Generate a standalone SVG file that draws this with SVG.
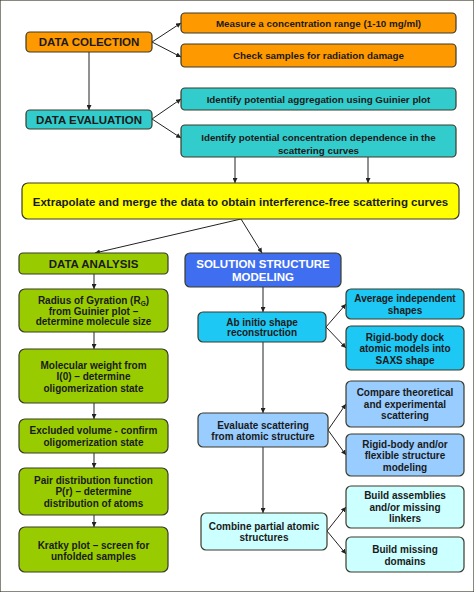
<svg xmlns="http://www.w3.org/2000/svg" width="474" height="592" viewBox="0 0 474 592">
<defs>
<marker id="ah" viewBox="0 0 10 10" refX="10" refY="5" markerWidth="5" markerHeight="5" orient="auto" markerUnits="userSpaceOnUse"><path d="M0,0 L10,5 L0,10 z" fill="#222"/></marker>
<style>
rect{stroke:#3a3a2a;stroke-width:1.2}
text{font-family:"Liberation Sans",Arial,sans-serif;font-weight:bold;fill:#1a1a1a;text-anchor:middle}
.h{font-size:11.5px}
.s{font-size:9.8px}
.m{font-size:10px}
.or{fill:#FF9900}
.te{fill:#33CCCC}
.ye{fill:#FFFF00}
.gr{fill:#99CC00}
.bl{fill:#3F6FF0}
.cy{fill:#1EC8F5}
.lb{fill:#99CCFF}
.lc{fill:#CCFFFF}
.w{fill:#ffffff}
#connectors line{stroke:#222;stroke-width:1;marker-end:url(#ah)}
</style>
</defs>
<rect x="0" y="0" width="474" height="592" fill="#ffffff" stroke="none"/>
<g id="connectors">
<line x1="152" y1="42" x2="181" y2="23"/>
<line x1="152" y1="42" x2="181" y2="57"/>
<line x1="89" y1="52" x2="89" y2="110"/>
<line x1="152" y1="119" x2="181" y2="99"/>
<line x1="152" y1="119" x2="181" y2="138"/>
<line x1="235" y1="157" x2="235" y2="183"/>
<line x1="368" y1="157" x2="368" y2="183"/>
<line x1="241" y1="219" x2="95" y2="253"/>
<line x1="241" y1="219" x2="262" y2="253"/>
<line x1="94" y1="274" x2="94" y2="289"/>
<line x1="94" y1="332" x2="94" y2="349"/>
<line x1="94" y1="403" x2="94" y2="419"/>
<line x1="94" y1="453" x2="94" y2="468"/>
<line x1="94" y1="515" x2="94" y2="527"/>
<line x1="263" y1="287" x2="263" y2="312"/>
<line x1="263" y1="342" x2="263" y2="413"/>
<line x1="263" y1="447" x2="263" y2="513"/>
<line x1="326" y1="327" x2="346" y2="304"/>
<line x1="326" y1="327" x2="346" y2="348"/>
<line x1="328" y1="430" x2="346" y2="404"/>
<line x1="328" y1="430" x2="346" y2="455"/>
<line x1="327" y1="531" x2="346" y2="507"/>
<line x1="327" y1="531" x2="346" y2="554"/>
</g>
<g id="data-colection"><rect class="or" x="26" y="32" width="126" height="20" rx="4"/><text class="h" x="89" y="46">DATA COLECTION</text></g>
<g id="measure"><rect class="or" x="181" y="13" width="275" height="20" rx="4"/><text class="s" x="318.5" y="26.5">Measure a concentration range (1-10 mg/ml)</text></g>
<g id="check"><rect class="or" x="181" y="44" width="275" height="23" rx="4"/><text class="s" x="318.5" y="58.5">Check samples for radiation damage</text></g>
<g id="data-evaluation"><rect class="te" x="26" y="110" width="126" height="19" rx="4"/><text class="h" x="89" y="124">DATA EVALUATION</text></g>
<g id="aggregation"><rect class="te" x="181" y="88" width="275" height="22" rx="4"/><text class="s" x="318.5" y="102.5">Identify potential aggregation using Guinier plot</text></g>
<g id="concentration"><rect class="te" x="181" y="125" width="275" height="32" rx="4"/><text class="s" x="318.5" y="140.5">Identify potential  concentration dependence in the</text><text class="s" x="318.5" y="153.5">scattering curves</text></g>
<g id="extrapolate"><rect class="ye" x="22" y="183" width="437" height="36" rx="6"/><text x="240.5" y="205.5" style="font-size:11.5px">Extrapolate and merge the data to obtain interference-free scattering curves</text></g>
<g id="data-analysis"><rect class="gr" x="19" y="253" width="149" height="21" rx="4"/><text class="h" x="93.5" y="268">DATA ANALYSIS</text></g>
<g id="solution"><rect class="bl" x="185" y="253" width="156" height="34" rx="5"/><text class="h w" x="263" y="268">SOLUTION STRUCTURE</text><text class="h w" x="263" y="281">MODELING</text></g>
<g id="radius"><rect class="gr" x="19" y="289" width="149" height="43" rx="6"/><text class="m" x="93.5" y="303.5">Radius of Gyration (R<tspan style="font-size:6.5px" dy="2">G</tspan><tspan dy="-2">)</tspan></text><text class="m" x="93.5" y="314.5">from Guinier plot –</text><text class="m" x="93.5" y="325">determine molecule size</text></g>
<g id="molecular"><rect class="gr" x="19" y="349" width="149" height="54" rx="6"/><text class="m" x="93.5" y="368.5">Molecular weight from</text><text class="m" x="93.5" y="380">I(0) – determine</text><text class="m" x="93.5" y="391.5">oligomerization state</text></g>
<g id="excluded"><rect class="gr" x="19" y="419" width="149" height="34" rx="6"/><text class="m" x="93.5" y="433.5">Excluded volume - confirm</text><text class="m" x="93.5" y="445.5">oligomerization state</text></g>
<g id="pair"><rect class="gr" x="19" y="468" width="149" height="47" rx="6"/><text class="m" x="93.5" y="483.5">Pair distribution function</text><text class="m" x="93.5" y="495">P(r) – determine</text><text class="m" x="93.5" y="506.5">distribution of atoms</text></g>
<g id="kratky"><rect class="gr" x="19" y="527" width="149" height="45" rx="6"/><text class="m" x="93.5" y="548.5">Kratky plot – screen for</text><text class="m" x="93.5" y="559.5">unfolded samples</text></g>
<g id="ab-initio"><rect class="cy" x="198" y="312" width="128" height="30" rx="5"/><text class="m" x="262" y="325.5">Ab initio shape</text><text class="m" x="262" y="335.5">reconstruction</text></g>
<g id="average"><rect class="cy" x="346" y="289" width="118" height="30" rx="5"/><text class="m" x="405" y="301.5">Average independent</text><text class="m" x="405" y="313.5">shapes</text></g>
<g id="rigid-dock"><rect class="cy" x="346" y="326" width="118" height="44" rx="5"/><text class="m" x="405" y="340.5">Rigid-body dock</text><text class="m" x="405" y="351.5">atomic models into</text><text class="m" x="405" y="363.5">SAXS shape</text></g>
<g id="evaluate"><rect class="lb" x="198" y="413" width="130" height="34" rx="5"/><text class="m" x="263" y="428.5">Evaluate scattering</text><text class="m" x="263" y="439.5">from atomic structure</text></g>
<g id="compare"><rect class="lb" x="346" y="381" width="118" height="46" rx="5"/><text class="m" x="405" y="395.5">Compare theoretical</text><text class="m" x="405" y="407.5">and experimental</text><text class="m" x="405" y="418.5">scattering</text></g>
<g id="rigid-flex"><rect class="lb" x="346" y="434" width="118" height="42" rx="5"/><text class="m" x="405" y="447.5">Rigid-body and/or</text><text class="m" x="405" y="458.5">flexible structure</text><text class="m" x="405" y="470.5">modeling</text></g>
<g id="combine"><rect class="lc" x="201" y="513" width="126" height="37" rx="5"/><text class="m" x="264" y="529.5">Combine partial atomic</text><text class="m" x="264" y="540.5">structures</text></g>
<g id="assemblies"><rect class="lc" x="346" y="486" width="118" height="42" rx="5"/><text class="m" x="405" y="498.5">Build assemblies</text><text class="m" x="405" y="510.5">and/or missing</text><text class="m" x="405" y="521.5">linkers</text></g>
<g id="missing"><rect class="lc" x="346" y="537" width="118" height="35" rx="5"/><text class="m" x="405" y="552.5">Build missing</text><text class="m" x="405" y="564.5">domains</text></g>
</svg>
